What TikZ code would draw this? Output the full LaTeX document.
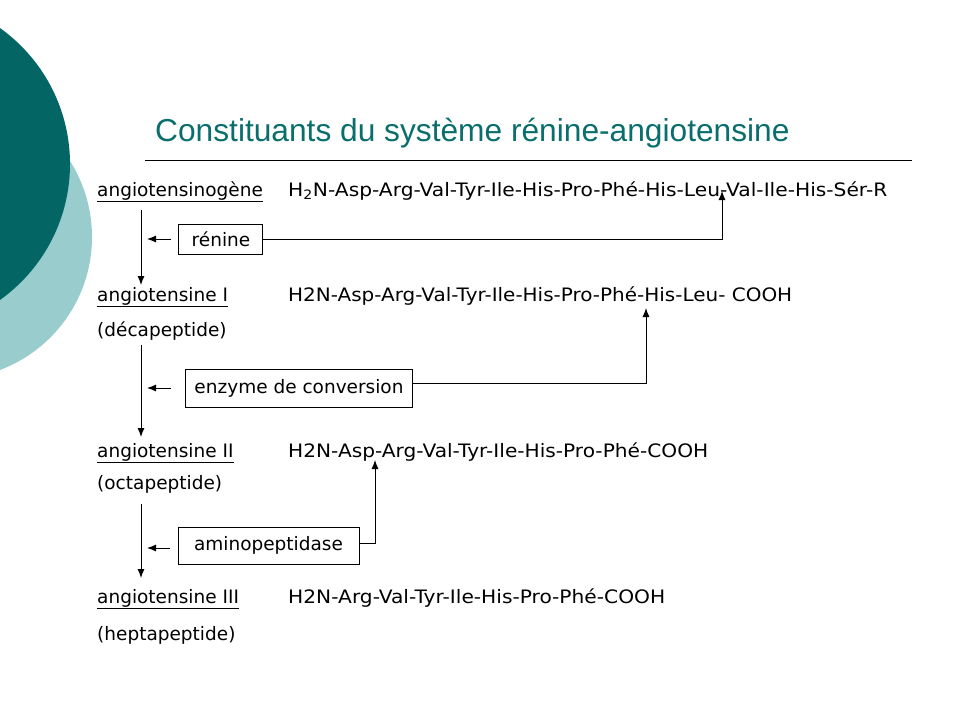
\documentclass[tikz,border=0pt]{standalone}
\usepackage{fontspec}
\setmainfont{DejaVu Sans}
\newfontfamily\titlefont{Liberation Sans}
\usetikzlibrary{arrows.meta}
\definecolor{darkteal}{RGB}{4,102,100}
\definecolor{lightteal}{RGB}{153,204,204}
\definecolor{titleteal}{RGB}{10,110,108}
\newcommand{\seqw}[2]{\resizebox{#1}{\height}{#2}}
\begin{document}
\begin{tikzpicture}[x=1pt,y=-1pt,
  body/.style={anchor=base west, inner sep=0pt, font=\fontsize{18.5}{22}\selectfont},
  enzbox/.style={draw, line width=0.8pt, inner sep=0pt, font=\fontsize{18.5}{22}\selectfont},
  conn/.style={line width=0.9pt, -{Latex[length=9pt,width=7pt]}},
]
\useasboundingbox (0,0) rectangle (960,720);
\begin{scope}
  \clip (0,0) rectangle (960,720);
  \fill[lightteal] (-50,237) circle[radius=142];
  \fill[darkteal] (-97,164) circle[radius=167];
\end{scope}

% title
\node[anchor=base west, inner sep=0pt, text=titleteal, font=\titlefont\fontsize{31.7}{38}\selectfont] (title) at (155,141) {Constituants du système rénine-angiotensine};
\coordinate (ruleL) at (145,160);
\coordinate (ruleR) at (912,160);
\draw[line width=0.8pt] (ruleL) -- (ruleR);

% rows
\node[body] (l0) at (97,196) {\underline{angiotensinogène}};
\node[body] (s0) at (288,196) {\seqw{599pt}{H\textsubscript{2}N-Asp-Arg-Val-Tyr-Ile-His-Pro-Phé-His-Leu-Val-Ile-His-Sér-R}};

\node[body] (l1) at (97,301) {\underline{angiotensine I}};
\node[body] (s1) at (288,301) {\seqw{504pt}{H2N-Asp-Arg-Val-Tyr-Ile-His-Pro-Phé-His-Leu- COOH}};
\node[body] (p1) at (97,336) {(décapeptide)};

\node[body] (l2) at (97,457) {\underline{angiotensine II}};
\node[body] (s2) at (288,457) {\seqw{420pt}{H2N-Asp-Arg-Val-Tyr-Ile-His-Pro-Phé-COOH}};
\node[body] (p2) at (97,489) {(octapeptide)};

\node[body] (l3) at (97,603) {\underline{angiotensine III}};
\node[body] (s3) at (288,603) {\seqw{377pt}{H2N-Arg-Val-Tyr-Ile-His-Pro-Phé-COOH}};
\node[body] (p3) at (97,640) {(heptapeptide)};

% enzyme boxes
\node[enzbox, minimum width=84pt, minimum height=30pt] (ren) at (220,239) {\hspace{2pt}rénine};
\node[enzbox, minimum width=227pt, minimum height=38pt] (enz) at (299,388) {enzyme de conversion};
\node[enzbox, minimum width=181pt, minimum height=37pt] (amp) at (268.5,545.5) {aminopeptidase};

% targets
\coordinate (t0) at (722,191);
\coordinate (t1) at (646,308);
\coordinate (t2) at (375,460);
\draw[conn] (ren.east) -| (t0);
\draw[conn] ([yshift=5pt]enz.east) -| (t1);
\draw[conn] ([yshift=2pt]amp.east) -| (t2);

% small left arrows
\coordinate (a0) at (147,239);
\coordinate (a1) at (147,388);
\coordinate (a2) at (147,548);
\draw[conn] ([xshift=-7pt]ren.west) -- (a0);
\draw[conn] ([xshift=-14pt]enz.west) -- (a1);
\draw[conn] ([xshift=-8pt,yshift=-2.5pt]amp.west) -- (a2);

% vertical arrows
\coordinate (v0s) at (141,210);
\coordinate (v0e) at (141,285);
\coordinate (v1s) at (141,345);
\coordinate (v1e) at (141,437);
\coordinate (v2s) at (141,504);
\coordinate (v2e) at (141,578);
\draw[conn] (v0s) -- (v0e);
\draw[conn] (v1s) -- (v1e);
\draw[conn] (v2s) -- (v2e);
\end{tikzpicture}
\end{document}
